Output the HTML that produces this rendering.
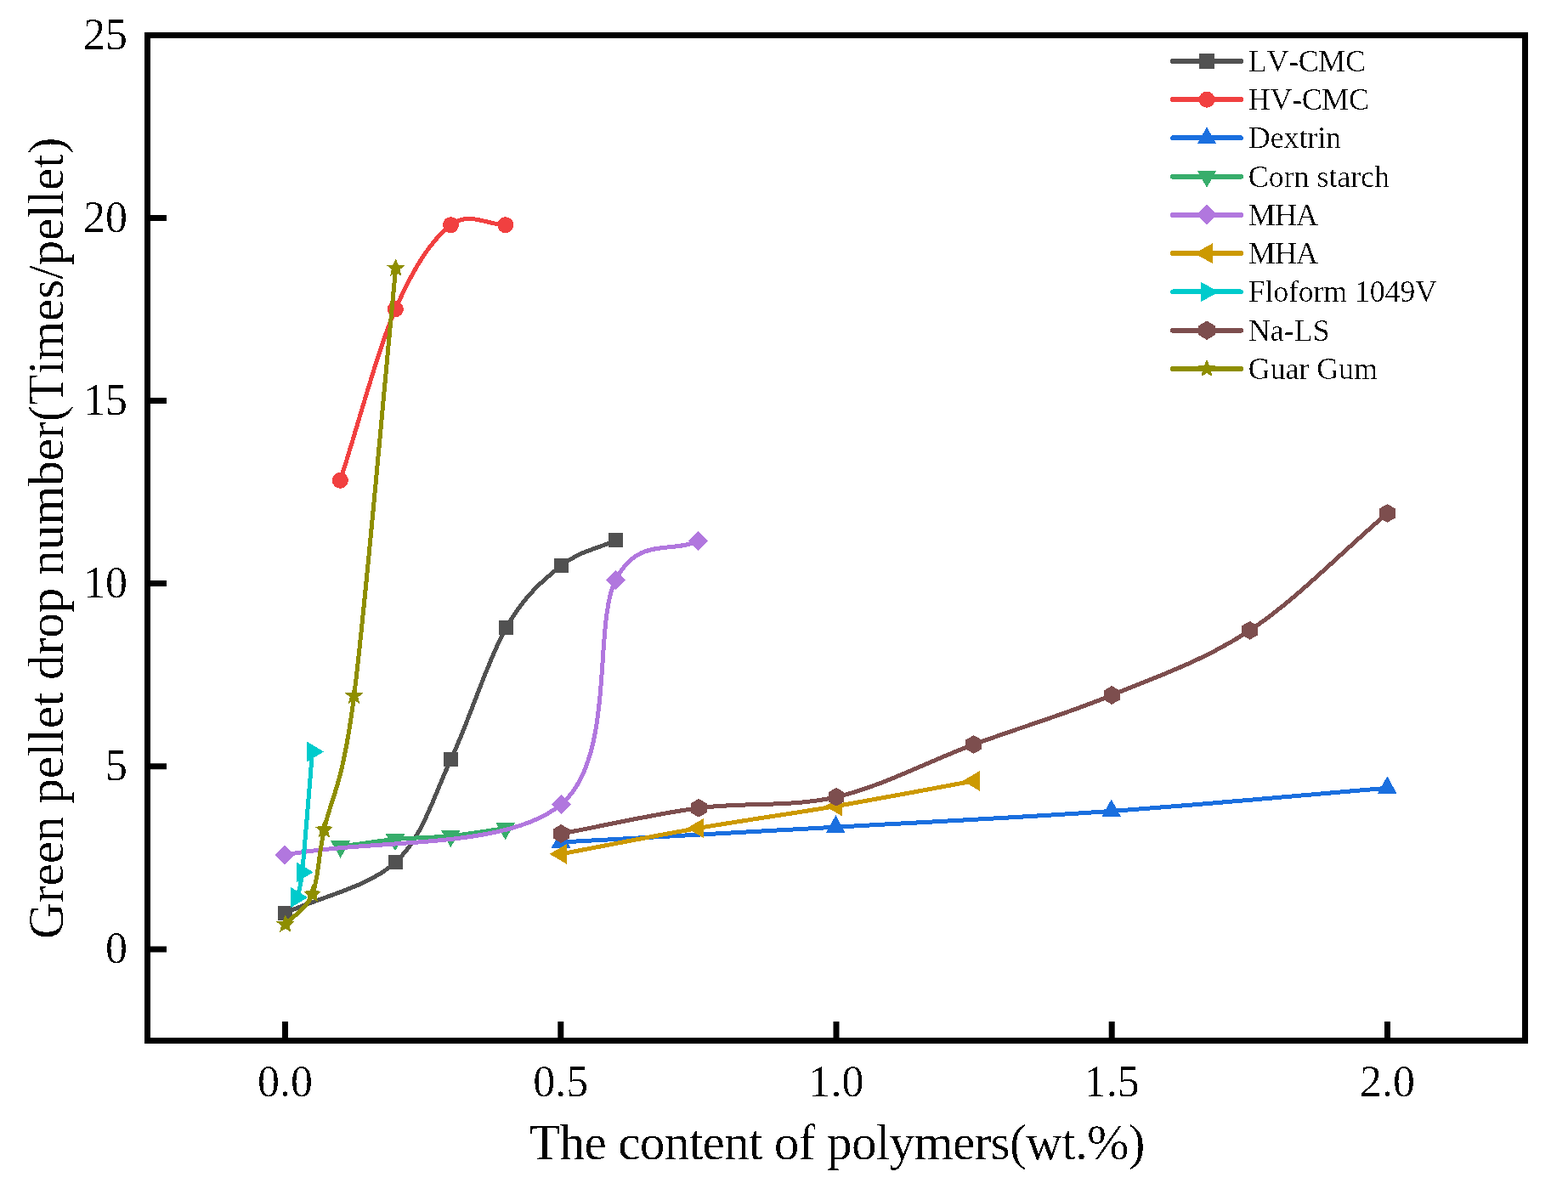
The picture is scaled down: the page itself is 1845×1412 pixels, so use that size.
<!DOCTYPE html><html><head><meta charset="utf-8"><title>Green pellet drop number</title>
<style>html,body{margin:0;padding:0;background:#fff;overflow:hidden;}svg{display:block;}text{font-family:"Liberation Serif","Times New Roman",serif;font-kerning:none;}</style></head><body>
<svg width="1845" height="1412" viewBox="0 0 1845 1412">
<rect x="0" y="0" width="1845" height="1412" fill="#fff"/>
<defs><filter id="alias" x="-5%" y="-20%" width="110%" height="140%" color-interpolation-filters="sRGB"><feComponentTransfer><feFuncA type="discrete" tableValues="0 0 1"/></feComponentTransfer></filter></defs>
<g shape-rendering="crispEdges">
<path d="M335.80,1074.30 C379.07,1054.30 433.13,1044.42 465.60,1014.30 C498.07,984.18 508.97,939.50 530.60,893.60 C552.23,847.70 573.73,776.93 595.40,738.90 C617.07,700.87 639.10,682.57 660.60,665.40 C682.10,648.23 703.13,645.73 724.40,635.90" fill="none" stroke="#515151" stroke-width="5" stroke-linejoin="round" stroke-linecap="butt"/>
<g transform="translate(335.80,1074.30)" fill="#515151"><rect x="-8.50" y="-8.50" width="17.00" height="17.00"/></g>
<g transform="translate(465.60,1014.30)" fill="#515151"><rect x="-8.50" y="-8.50" width="17.00" height="17.00"/></g>
<g transform="translate(530.60,893.60)" fill="#515151"><rect x="-8.50" y="-8.50" width="17.00" height="17.00"/></g>
<g transform="translate(595.40,738.90)" fill="#515151"><rect x="-8.50" y="-8.50" width="17.00" height="17.00"/></g>
<g transform="translate(660.60,665.40)" fill="#515151"><rect x="-8.50" y="-8.50" width="17.00" height="17.00"/></g>
<g transform="translate(724.40,635.90)" fill="#515151"><rect x="-8.50" y="-8.50" width="17.00" height="17.00"/></g>
</g>
<g shape-rendering="crispEdges">
<path d="M400.40,565.30 C422.07,498.10 443.72,413.80 465.40,363.70 C487.08,313.60 508.93,281.20 530.50,264.70 C552.07,248.20 573.37,264.70 594.80,264.70" fill="none" stroke="#F14040" stroke-width="5" stroke-linejoin="round" stroke-linecap="butt"/>
<g transform="translate(400.40,565.30)" fill="#F14040"><circle cx="0" cy="0" r="9.50"/></g>
<g transform="translate(465.40,363.70)" fill="#F14040"><circle cx="0" cy="0" r="9.50"/></g>
<g transform="translate(530.50,264.70)" fill="#F14040"><circle cx="0" cy="0" r="9.50"/></g>
<g transform="translate(594.80,264.70)" fill="#F14040"><circle cx="0" cy="0" r="9.50"/></g>
</g>
<g shape-rendering="crispEdges">
<path d="M660.00,991.00 C767.80,985.07 875.45,979.30 983.40,973.20 C1091.35,967.10 1199.55,962.05 1307.70,954.40 C1415.85,946.75 1524.10,936.33 1632.30,927.30" fill="none" stroke="#1A6FDF" stroke-width="5" stroke-linejoin="round" stroke-linecap="butt"/>
<g transform="translate(660.00,991.00)" fill="#1A6FDF"><polygon points="0.00,-14.00 11.50,7.00 -11.50,7.00"/></g>
<g transform="translate(983.40,973.20)" fill="#1A6FDF"><polygon points="0.00,-14.00 11.50,7.00 -11.50,7.00"/></g>
<g transform="translate(1307.70,954.40)" fill="#1A6FDF"><polygon points="0.00,-14.00 11.50,7.00 -11.50,7.00"/></g>
<g transform="translate(1632.30,927.30)" fill="#1A6FDF"><polygon points="0.00,-14.00 11.50,7.00 -11.50,7.00"/></g>
</g>
<g shape-rendering="crispEdges">
<path d="M400.60,996.10 C422.07,993.27 443.37,989.68 465.00,987.60 C486.63,985.52 508.80,985.77 530.40,983.60 C552.00,981.43 573.20,977.60 594.60,974.60" fill="none" stroke="#37AD6B" stroke-width="5" stroke-linejoin="round" stroke-linecap="butt"/>
<g transform="translate(400.60,996.10)" fill="#37AD6B"><polygon points="0.00,13.67 11.50,-6.83 -11.50,-6.83"/></g>
<g transform="translate(465.00,987.60)" fill="#37AD6B"><polygon points="0.00,13.67 11.50,-6.83 -11.50,-6.83"/></g>
<g transform="translate(530.40,983.60)" fill="#37AD6B"><polygon points="0.00,13.67 11.50,-6.83 -11.50,-6.83"/></g>
<g transform="translate(594.60,974.60)" fill="#37AD6B"><polygon points="0.00,13.67 11.50,-6.83 -11.50,-6.83"/></g>
</g>
<g shape-rendering="crispEdges">
<path d="M335.40,1006.00 C443.63,986.20 595.25,1000.57 660.10,946.60 C724.95,892.63 697.58,733.87 724.50,682.20 C751.42,630.53 789.23,651.80 821.60,636.60" fill="none" stroke="#B177DE" stroke-width="5" stroke-linejoin="round" stroke-linecap="butt"/>
<g transform="translate(335.40,1006.00)" fill="#B177DE"><polygon points="0.00,-11.50 11.50,0.00 0.00,11.50 -11.50,0.00"/></g>
<g transform="translate(660.10,946.60)" fill="#B177DE"><polygon points="0.00,-11.50 11.50,0.00 0.00,11.50 -11.50,0.00"/></g>
<g transform="translate(724.50,682.20)" fill="#B177DE"><polygon points="0.00,-11.50 11.50,0.00 0.00,11.50 -11.50,0.00"/></g>
<g transform="translate(821.60,636.60)" fill="#B177DE"><polygon points="0.00,-11.50 11.50,0.00 0.00,11.50 -11.50,0.00"/></g>
</g>
<g shape-rendering="crispEdges">
<path d="M660.00,1004.90 C713.83,994.77 767.50,983.90 821.50,974.50 C875.50,965.10 929.92,957.77 984.00,948.50 C1038.08,939.23 1092.00,928.77 1146.00,918.90" fill="none" stroke="#CC9900" stroke-width="5" stroke-linejoin="round" stroke-linecap="butt"/>
<g transform="translate(660.00,1004.90)" fill="#CC9900"><polygon points="-13.33,0.00 6.67,-11.70 6.67,11.70"/></g>
<g transform="translate(821.50,974.50)" fill="#CC9900"><polygon points="-13.33,0.00 6.67,-11.70 6.67,11.70"/></g>
<g transform="translate(984.00,948.50)" fill="#CC9900"><polygon points="-13.33,0.00 6.67,-11.70 6.67,11.70"/></g>
<g transform="translate(1146.00,918.90)" fill="#CC9900"><polygon points="-13.33,0.00 6.67,-11.70 6.67,11.70"/></g>
</g>
<g shape-rendering="crispEdges">
<path d="M349.00,1056.00 C351.17,1046.10 352.40,1054.88 355.50,1026.30 C358.60,997.72 363.57,931.77 367.60,884.50" fill="none" stroke="#00CBCC" stroke-width="5" stroke-linejoin="round" stroke-linecap="butt"/>
<g transform="translate(349.00,1056.00)" fill="#00CBCC"><polygon points="13.33,0.00 -6.67,-12.00 -6.67,12.00"/></g>
<g transform="translate(355.50,1026.30)" fill="#00CBCC"><polygon points="13.33,0.00 -6.67,-12.00 -6.67,12.00"/></g>
<g transform="translate(367.60,884.50)" fill="#00CBCC"><polygon points="13.33,0.00 -6.67,-12.00 -6.67,12.00"/></g>
</g>
<g shape-rendering="crispEdges">
<path d="M660.20,981.00 C714.17,970.93 768.13,958.00 822.10,950.80 C876.07,943.60 930.05,950.27 984.00,937.80 C1037.95,925.33 1091.77,895.97 1145.80,876.00 C1199.83,856.03 1254.07,840.37 1308.20,818.00 C1362.33,795.63 1416.57,777.48 1470.60,741.80 C1524.63,706.12 1578.47,649.87 1632.40,603.90" fill="none" stroke="#7D4E4E" stroke-width="5" stroke-linejoin="round" stroke-linecap="butt"/>
<g transform="translate(660.20,981.00)" fill="#7D4E4E"><polygon points="0.00,-10.90 9.44,-5.45 9.44,5.45 0.00,10.90 -9.44,5.45 -9.44,-5.45"/></g>
<g transform="translate(822.10,950.80)" fill="#7D4E4E"><polygon points="0.00,-10.90 9.44,-5.45 9.44,5.45 0.00,10.90 -9.44,5.45 -9.44,-5.45"/></g>
<g transform="translate(984.00,937.80)" fill="#7D4E4E"><polygon points="0.00,-10.90 9.44,-5.45 9.44,5.45 0.00,10.90 -9.44,5.45 -9.44,-5.45"/></g>
<g transform="translate(1145.80,876.00)" fill="#7D4E4E"><polygon points="0.00,-10.90 9.44,-5.45 9.44,5.45 0.00,10.90 -9.44,5.45 -9.44,-5.45"/></g>
<g transform="translate(1308.20,818.00)" fill="#7D4E4E"><polygon points="0.00,-10.90 9.44,-5.45 9.44,5.45 0.00,10.90 -9.44,5.45 -9.44,-5.45"/></g>
<g transform="translate(1470.60,741.80)" fill="#7D4E4E"><polygon points="0.00,-10.90 9.44,-5.45 9.44,5.45 0.00,10.90 -9.44,5.45 -9.44,-5.45"/></g>
<g transform="translate(1632.40,603.90)" fill="#7D4E4E"><polygon points="0.00,-10.90 9.44,-5.45 9.44,5.45 0.00,10.90 -9.44,5.45 -9.44,-5.45"/></g>
</g>
<g shape-rendering="crispEdges">
<path d="M335.80,1087.70 C346.37,1075.90 359.90,1070.87 367.50,1052.30 C375.10,1033.73 373.22,1015.22 381.40,976.30 C389.58,937.38 402.55,928.92 416.60,818.80 C430.65,708.68 449.33,483.33 465.70,315.60" fill="none" stroke="#8E8E00" stroke-width="5" stroke-linejoin="round" stroke-linecap="butt"/>
<g transform="translate(335.80,1087.70)" fill="#8E8E00"><polygon points="0.00,-11.40 3.02,-4.15 10.84,-3.52 4.88,1.59 6.70,9.22 0.00,5.13 -6.70,9.22 -4.88,1.59 -10.84,-3.52 -3.02,-4.15"/></g>
<g transform="translate(367.50,1052.30)" fill="#8E8E00"><polygon points="0.00,-11.40 3.02,-4.15 10.84,-3.52 4.88,1.59 6.70,9.22 0.00,5.13 -6.70,9.22 -4.88,1.59 -10.84,-3.52 -3.02,-4.15"/></g>
<g transform="translate(381.40,976.30)" fill="#8E8E00"><polygon points="0.00,-11.40 3.02,-4.15 10.84,-3.52 4.88,1.59 6.70,9.22 0.00,5.13 -6.70,9.22 -4.88,1.59 -10.84,-3.52 -3.02,-4.15"/></g>
<g transform="translate(416.60,818.80)" fill="#8E8E00"><polygon points="0.00,-11.40 3.02,-4.15 10.84,-3.52 4.88,1.59 6.70,9.22 0.00,5.13 -6.70,9.22 -4.88,1.59 -10.84,-3.52 -3.02,-4.15"/></g>
<g transform="translate(465.70,315.60)" fill="#8E8E00"><polygon points="0.00,-11.40 3.02,-4.15 10.84,-3.52 4.88,1.59 6.70,9.22 0.00,5.13 -6.70,9.22 -4.88,1.59 -10.84,-3.52 -3.02,-4.15"/></g>
</g>
<g stroke="#000" stroke-width="7" fill="none" stroke-linecap="butt">
<rect x="173.5" y="41.5" width="1621" height="1183"/>
<line x1="170" y1="1117.00" x2="196" y2="1117.00"/>
<line x1="170" y1="901.75" x2="196" y2="901.75"/>
<line x1="170" y1="686.50" x2="196" y2="686.50"/>
<line x1="170" y1="471.50" x2="196" y2="471.50"/>
<line x1="170" y1="256.50" x2="196" y2="256.50"/>
<line x1="335.50" y1="1202" x2="335.50" y2="1228"/>
<line x1="659.80" y1="1202" x2="659.80" y2="1228"/>
<line x1="984.00" y1="1202" x2="984.00" y2="1228"/>
<line x1="1308.20" y1="1202" x2="1308.20" y2="1228"/>
<line x1="1632.50" y1="1202" x2="1632.50" y2="1228"/>
</g>
<g shape-rendering="crispEdges">
<line x1="1380" y1="71.90" x2="1460" y2="71.90" stroke="#515151" stroke-width="6" stroke-linecap="round"/>
<g transform="translate(1420,71.90)" fill="#515151"><rect x="-8.75" y="-8.75" width="17.50" height="17.50"/></g>
<line x1="1380" y1="117.16" x2="1460" y2="117.16" stroke="#F14040" stroke-width="6" stroke-linecap="round"/>
<g transform="translate(1420,117.16)" fill="#F14040"><circle cx="0" cy="0" r="9.50"/></g>
<line x1="1380" y1="162.42" x2="1460" y2="162.42" stroke="#1A6FDF" stroke-width="6" stroke-linecap="round"/>
<g transform="translate(1420,162.42)" fill="#1A6FDF"><polygon points="0.00,-12.93 11.25,6.47 -11.25,6.47"/></g>
<line x1="1380" y1="207.68" x2="1460" y2="207.68" stroke="#37AD6B" stroke-width="6" stroke-linecap="round"/>
<g transform="translate(1420,207.68)" fill="#37AD6B"><polygon points="0.00,12.93 11.25,-6.47 -11.25,-6.47"/></g>
<line x1="1380" y1="252.94" x2="1460" y2="252.94" stroke="#B177DE" stroke-width="6" stroke-linecap="round"/>
<g transform="translate(1420,252.94)" fill="#B177DE"><polygon points="0.00,-12.00 12.00,0.00 0.00,12.00 -12.00,0.00"/></g>
<line x1="1380" y1="298.20" x2="1460" y2="298.20" stroke="#CC9900" stroke-width="6" stroke-linecap="round"/>
<g transform="translate(1420,298.20)" fill="#CC9900"><polygon points="-14.33,0.00 7.17,-12.20 7.17,12.20"/></g>
<line x1="1380" y1="343.46" x2="1460" y2="343.46" stroke="#00CBCC" stroke-width="6" stroke-linecap="round"/>
<g transform="translate(1420,343.46)" fill="#00CBCC"><polygon points="14.33,0.00 -7.17,-11.75 -7.17,11.75"/></g>
<line x1="1380" y1="388.72" x2="1460" y2="388.72" stroke="#7D4E4E" stroke-width="6" stroke-linecap="round"/>
<g transform="translate(1420,388.72)" fill="#7D4E4E"><polygon points="0.00,-11.10 9.61,-5.55 9.61,5.55 0.00,11.10 -9.61,5.55 -9.61,-5.55"/></g>
<line x1="1380" y1="433.98" x2="1460" y2="433.98" stroke="#8E8E00" stroke-width="6" stroke-linecap="round"/>
<g transform="translate(1420,433.98)" fill="#8E8E00"><polygon points="0.00,-11.20 2.96,-4.08 10.65,-3.46 4.79,1.56 6.58,9.06 0.00,5.04 -6.58,9.06 -4.79,1.56 -10.65,-3.46 -2.96,-4.08"/></g>
</g>
<g filter="url(#alias)">
<g font-size="52" fill="#000">
<text x="150" y="1133.00" text-anchor="end">0</text>
<text x="150" y="917.90" text-anchor="end">5</text>
<text x="150" y="702.80" text-anchor="end">10</text>
<text x="150" y="487.70" text-anchor="end">15</text>
<text x="150" y="272.60" text-anchor="end">20</text>
<text x="150" y="57.50" text-anchor="end">25</text>
<text x="335.50" y="1289.5" text-anchor="middle">0.0</text>
<text x="659.73" y="1289.5" text-anchor="middle">0.5</text>
<text x="983.95" y="1289.5" text-anchor="middle">1.0</text>
<text x="1308.18" y="1289.5" text-anchor="middle">1.5</text>
<text x="1632.40" y="1289.5" text-anchor="middle">2.0</text>
</g>
<text x="623" y="1364" font-size="59.4" textLength="724.5" lengthAdjust="spacing">The content of polymers(wt.%)</text>
<text transform="translate(74,1105) rotate(-90)" x="0" y="0" font-size="59.4" textLength="943.5" lengthAdjust="spacing">Green pellet drop number(Times/pellet)</text>
<text x="1468.8" y="83.90" font-size="36" fill="#000" textLength="138.20" lengthAdjust="spacing">LV-CMC</text>
<text x="1468.8" y="129.10" font-size="36" fill="#000" textLength="142.20" lengthAdjust="spacing">HV-CMC</text>
<text x="1468.8" y="174.10" font-size="36" fill="#000" textLength="109.30" lengthAdjust="spacing">Dextrin</text>
<text x="1468.8" y="219.60" font-size="36" fill="#000" textLength="166.20" lengthAdjust="spacing">Corn starch</text>
<text x="1468.8" y="265.10" font-size="36" fill="#000" textLength="82.30" lengthAdjust="spacing">MHA</text>
<text x="1468.8" y="310.00" font-size="36" fill="#000" textLength="82.30" lengthAdjust="spacing">MHA</text>
<text x="1468.8" y="355.10" font-size="36" fill="#000" textLength="222.10" lengthAdjust="spacing">Floform 1049V</text>
<text x="1468.8" y="400.90" font-size="36" fill="#000" textLength="95.98" lengthAdjust="spacing">Na-LS</text>
<text x="1468.8" y="445.90" font-size="36" fill="#000" textLength="152.20" lengthAdjust="spacing">Guar Gum</text>
</g>
</svg></body></html>
